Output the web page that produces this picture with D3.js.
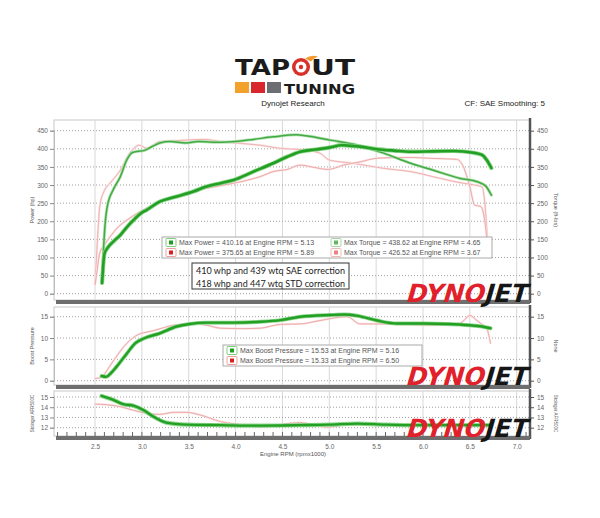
<!DOCTYPE html>
<html><head><meta charset="utf-8">
<script src="https://cdn.jsdelivr.net/npm/d3@7"></script>
<style>body{margin:0;background:#fff}svg{display:block}</style>
</head><body>
<svg id="c" width="600" height="518"></svg>
<script>
// ---------- DATA ----------
const rpmTicks = [2.5,3.0,3.5,4.0,4.5,5.0,5.5,6.0,6.5,7.0];
const powerTicks = [0,50,100,150,200,250,300,350,400,450];
const boostTicks = [0,5,10,15];
const afrTicks = [12,13,14,15];

// Run 1 (green) power
const g1PowerRpm = [2.575,2.585,2.60,2.63,2.70,2.77,2.84,2.91,3.00,3.05,3.19,3.34,3.55,3.69,3.84,3.98,4.19,4.40,4.55,4.69,4.85,5.01,5.13,5.19,5.33,5.51,5.69,5.87,6.11,6.33,6.54,6.63,6.68,6.73];
const g1Power    = [30,70,110,125,145,162,184,203,224,231,254,266,282,296,305,314,337,360,378,392,398,404,410,409,406,399,395,392,393,394,389,383,369,347];
// Run 1 (green) torque
const g1TorqueRpm = [2.575,2.59,2.61,2.63,2.70,2.77,2.84,2.90,2.96,3.02,3.10,3.19,3.30,3.47,3.60,3.84,4.00,4.19,4.40,4.65,4.75,5.01,5.30,5.58,5.87,6.11,6.40,6.58,6.67,6.73];
const g1Torque    = [30,120,200,240,290,323,370,390,393,395,405,416,420,416,420,418,420,426,433,439,436,424,410,388,360,341,318,309,297,272];
// Run 2 (red) power
const r2PowerRpm = [2.50,2.52,2.55,2.60,2.66,2.75,2.84,2.95,3.05,3.30,3.50,3.69,3.98,4.26,4.40,4.55,4.69,4.83,4.99,5.15,5.33,5.51,5.76,5.89,6.05,6.36,6.43,6.50,6.55,6.62,6.66,6.68];
const r2Power    = [25,60,112,135,157,185,203,222,236,263,278,291,305,323,337,343,355,349,343,355,364,374,376,376,374,371,351,295,245,240,200,157];
// Run 2 (red) torque
const r2TorqueRpm = [2.50,2.52,2.55,2.60,2.66,2.77,2.87,2.93,2.97,3.05,3.19,3.40,3.67,3.84,4.05,4.26,4.48,4.69,4.90,5.00,5.26,5.58,5.87,6.19,6.43,6.55,6.63,6.66,6.69];
const r2Torque    = [25,120,240,285,305,341,388,405,410,402,420,423,426,420,415,410,401,398,388,369,360,346,337,318,305,300,295,250,140];
// Boost
const g1BoostRpm = [2.57,2.62,2.67,2.73,2.84,2.93,3.02,3.19,3.37,3.51,3.69,3.98,4.26,4.48,4.69,5.01,5.16,5.30,5.51,5.72,6.01,6.26,6.50,6.63,6.72];
const g1Boost    = [1.1,0.9,1.8,3.3,6.4,8.8,9.9,11.1,12.7,13.3,13.6,13.6,13.8,14.2,15.0,15.4,15.5,15.2,14.1,13.4,13.4,13.3,13.0,12.7,12.3];
const r2BoostRpm = [2.50,2.57,2.63,2.70,2.84,2.95,3.12,3.34,3.55,3.69,3.84,4.05,4.26,4.48,4.69,4.90,5.19,5.33,5.62,6.11,6.36,6.44,6.50,6.57,6.63,6.68,6.72];
const r2Boost    = [0.5,0.8,2.5,4.8,8.8,10.7,11.7,13.0,13.3,13.0,12.3,12.2,12.3,13.2,13.3,14.1,15.0,13.3,13.3,13.0,13.0,14.2,15.3,14.2,13.2,12.3,8.8];
// AFR
const g1AfrRpm = [2.57,2.70,2.80,2.91,3.02,3.12,3.26,3.48,3.84,4.20,4.69,5.00,5.30,5.60,6.00,6.40,6.72];
const g1Afr    = [15.1,14.7,14.3,14.15,13.7,13.1,12.5,12.3,12.25,12.2,12.25,12.3,12.4,12.3,12.25,12.25,12.25];
const r2AfrRpm = [2.50,2.62,2.77,2.91,3.05,3.19,3.34,3.48,3.62,3.84,4.05,4.26,4.40,4.55,4.69,4.97,5.22,5.60,6.00,6.40,6.70];
const r2Afr    = [14.3,14.25,14.05,13.7,13.4,13.3,13.5,13.5,13.25,12.6,12.3,12.05,12.15,12.4,12.5,12.05,12.3,12.2,12.2,12.2,12.2];

const legendPower = [
  {text:"Max Power = 410.16 at Engine RPM = 5.13", fill:"#1e9e1e", stroke:"#7fcf7f"},
  {text:"Max Power = 375.65 at Engine RPM = 5.89", fill:"#d82020", stroke:"#eea0a0"}];
const legendTorque = [
  {text:"Max Torque = 438.62 at Engine RPM = 4.65", fill:"#5fb95f", stroke:"#a5d8a5"},
  {text:"Max Torque = 426.52 at Engine RPM = 3.67", fill:"#ee8080", stroke:"#f2b8b8"}];
const legendBoost = [
  {text:"Max Boost Pressure = 15.53 at Engine RPM = 5.16", fill:"#1e9e1e", stroke:"#7fcf7f"},
  {text:"Max Boost Pressure = 15.33 at Engine RPM = 6.50", fill:"#d82020", stroke:"#eea0a0"}];
const noteLines = ["410 whp and 439 wtq SAE correction","418 whp and 447 wtq STD correction"];

// ---------- DRAW ----------
const svg = d3.select("#c");
const L = 54, R = 530;
const x = d3.scaleLinear().domain([2.062, 7.142]).range([L, R]);

const panels = [
  {top:120, bottom:300, y:d3.scaleLinear().domain([0,450]).range([293.7,130.7]), ticks:powerTicks, lt:"Power (hp)", rt:"Torque (ft-lbs)"},
  {top:307, bottom:385, y:d3.scaleLinear().domain([0,15]).range([380.7,316.7]), ticks:boostTicks, lt:"Boost Pressure", rt:"None"},
  {top:391, bottom:436, y:d3.scaleLinear().domain([12,15]).range([427.7,397]), ticks:afrTicks, lt:"Stoinger AFR500C", rt:"Stoinger AFR500C"}
];

const font = "'Liberation Sans', Arial, sans-serif";

panels.forEach((p,i) => {
  const g = svg.append("g");
  g.append("rect").attr("x",L).attr("y",p.top).attr("width",R-L).attr("height",p.bottom-p.top)
    .attr("fill","#fff").attr("stroke","#c8c8c8");
  g.selectAll(".vg").data(rpmTicks).join("line")
    .attr("x1",d=>x(d)).attr("x2",d=>x(d)).attr("y1",p.top).attr("y2",p.bottom)
    .attr("stroke","#d8d8d8").attr("stroke-width",1);
  g.selectAll(".hg").data(p.ticks).join("line")
    .attr("x1",L).attr("x2",R).attr("y1",d=>p.y(d)).attr("y2",d=>p.y(d))
    .attr("stroke","#a0a0a0").attr("stroke-dasharray","1,2").attr("stroke-width",1);
  const la = g.append("g").attr("transform",`translate(${L},0)`)
    .call(d3.axisLeft(p.y).tickValues(p.ticks).tickFormat(d3.format("d")).tickSize(4).tickPadding(2));
  la.select(".domain").attr("stroke","#bbb");
  la.selectAll(".tick line").attr("stroke","#888");
  la.selectAll("text").attr("font-family",font).attr("font-size",6.5).attr("fill","#666");
  const ra = g.append("g").attr("transform",`translate(${R},0)`)
    .call(d3.axisRight(p.y).tickValues(p.ticks).tickFormat(d3.format("d")).tickSize(4).tickPadding(3));
  ra.select(".domain").remove();
  ra.selectAll(".tick line").attr("stroke","#555");
  ra.selectAll("text").attr("font-family",font).attr("font-size",6.5).attr("fill","#666");
  g.append("line").attr("x1",R).attr("x2",R).attr("y1",p.top-2).attr("y2",p.bottom+3)
    .attr("stroke","#555").attr("stroke-width",2.5);
  g.append("rect").attr("x",L+2).attr("y",p.bottom).attr("width",R-L-2).attr("height",4).attr("fill","#6e6e6e");
  const cy = (p.top+p.bottom)/2;
  g.append("text").attr("transform",`translate(34,${cy}) rotate(-90)`).attr("text-anchor","middle")
    .attr("font-family",font).attr("font-size",i==2?4.5:5.5).attr("fill","#555").text(p.lt);
  g.append("text").attr("transform",`translate(554,${cy}) rotate(90)`).attr("text-anchor","middle")
    .attr("font-family",font).attr("font-size",i==2?4.5:5.5).attr("fill","#555").text(p.rt);
});

const xa = svg.append("g").attr("transform",`translate(0,${panels[2].bottom+4})`)
  .call(d3.axisBottom(x).tickValues(rpmTicks).tickFormat(d3.format(".1f")).tickSize(0).tickPadding(4));
xa.select(".domain").remove();
xa.selectAll("text").attr("font-family",font).attr("font-size",6.5).attr("fill","#666");
const minor = d3.range(21,72).map(d=>d/10);
svg.selectAll(".mt").data(minor).join("line")
  .attr("x1",d=>x(d)).attr("x2",d=>x(d)).attr("y1",panels[2].bottom-4).attr("y2",panels[2].bottom)
  .attr("stroke","#666").attr("stroke-width",1);
svg.append("text").attr("x",293).attr("y",456).attr("text-anchor","middle")
  .attr("font-family",font).attr("font-size",6).attr("fill","#555").text("Engine RPM (rpmx1000)");

function drawLine(rpms, vals, yScale, core, halo, wc, wh){
  const pts = rpms.map((r,i)=>[r, vals[i]]);
  const ln = d3.line().x(d=>x(d[0])).y(d=>yScale(d[1])).curve(d3.curveMonotoneX);
  svg.append("path").attr("d",ln(pts)).attr("fill","none").attr("stroke",halo).attr("stroke-width",wh)
    .attr("stroke-linejoin","round").attr("stroke-linecap","round");
  svg.append("path").attr("d",ln(pts)).attr("fill","none").attr("stroke",core).attr("stroke-width",wc)
    .attr("stroke-linejoin","round").attr("stroke-linecap","round");
}
const [pP,pB,pA] = panels;
drawLine(r2TorqueRpm, r2Torque, pP.y, "#efa5a5", "#fae3e3", 0.8, 2.2);
drawLine(r2PowerRpm, r2Power, pP.y, "#eb9a9a", "#fae3e3", 0.8, 2.2);
drawLine(g1TorqueRpm, g1Torque, pP.y, "#44ab44", "#b2e2b2", 1.5, 3.0);
drawLine(g1PowerRpm, g1Power, pP.y, "#23a023", "#8fd68f", 2.6, 4.2);
drawLine(r2BoostRpm, r2Boost, pB.y, "#eb9a9a", "#fae3e3", 0.8, 2.2);
drawLine(g1BoostRpm, g1Boost, pB.y, "#23a023", "#8fd68f", 2.4, 4.0);
drawLine(r2AfrRpm, r2Afr, pA.y, "#eb9a9a", "#fae3e3", 0.8, 2.2);
drawLine(g1AfrRpm, g1Afr, pA.y, "#23a023", "#8fd68f", 2.4, 4.2);

function legendItems(items, x0, y0){
  items.forEach((it,i)=>{
    const yy = y0 + i*10;
    svg.append("rect").attr("x",x0).attr("y",yy-4).attr("width",10).attr("height",8).attr("rx",1)
      .attr("fill","#fff").attr("stroke",it.stroke).attr("stroke-width",1);
    svg.append("rect").attr("x",x0+3).attr("y",yy-2).attr("width",4).attr("height",4).attr("fill",it.fill);
    svg.append("text").attr("x",x0+13).attr("y",yy+2.5).attr("font-family",font).attr("font-size",7)
      .attr("fill","#555").text(it.text);
  });
}
svg.append("rect").attr("x",162).attr("y",237).attr("width",330).attr("height",21).attr("fill","#fff").attr("stroke","#aaa");
legendItems(legendPower, 166, 242.5);
legendItems(legendTorque, 331, 242.5);
svg.append("rect").attr("x",223).attr("y",345).attr("width",199).attr("height",21).attr("fill","#fff").attr("stroke","#aaa");
legendItems(legendBoost, 227, 350.5);

svg.append("rect").attr("x",192).attr("y",263).attr("width",157).attr("height",26).attr("fill","#fff").attr("stroke","#333");
noteLines.forEach((t,i)=>svg.append("text").attr("x",196).attr("y",274+i*12.5)
  .attr("font-family","Lato, 'Open Sans', sans-serif").attr("font-size",10).attr("textLength",149)
  .attr("lengthAdjust","spacingAndGlyphs").attr("fill","#222").text(t));

// Dynojet logos
function dynojet(baseY){
  const g = svg.append("g").attr("transform",`translate(405,${baseY}) skewX(-16)`);
  const t = g.append("text").attr("x",0).attr("y",0).attr("font-family","'DejaVu Sans', sans-serif")
    .attr("font-weight","bold").attr("font-size",25).attr("textLength",121).attr("lengthAdjust","spacingAndGlyphs");
  t.append("tspan").attr("fill","#e0202a").text("DYNO");
  t.append("tspan").attr("fill","#161616").text("JET");
}
dynojet(301.5);
dynojet(385);
dynojet(436.5);

svg.append("text").attr("x",293).attr("y",106).attr("text-anchor","middle").attr("font-family",font)
  .attr("font-size",8).attr("fill","#222").text("Dynojet Research");
svg.append("text").attr("x",545).attr("y",106).attr("text-anchor","end").attr("font-family",font)
  .attr("font-size",8).attr("fill","#222").text("CF: SAE Smoothing: 5");

const lg = svg.append("g").attr("font-family","'DejaVu Sans', sans-serif").attr("font-weight","bold");
lg.append("text").attr("x",235).attr("y",75).attr("font-size",22).attr("textLength",55).attr("lengthAdjust","spacingAndGlyphs")
  .attr("fill","#1b1b1b").text("TAP");
lg.append("circle").attr("cx",301).attr("cy",67).attr("r",9).attr("fill","#d8312a");
lg.append("circle").attr("cx",301).attr("cy",67).attr("r",5.5).attr("fill","#fff");
lg.append("circle").attr("cx",301).attr("cy",67).attr("r",2.2).attr("fill","#d8312a");
lg.append("path").attr("d","M305,58.5 Q311,54.5 318,56.5 Q313,58.5 311,61.5 Z").attr("fill","#f29a2e");
lg.append("text").attr("x",311).attr("y",75).attr("font-size",22).attr("textLength",44).attr("lengthAdjust","spacingAndGlyphs")
  .attr("fill","#1b1b1b").text("UT");
lg.append("rect").attr("x",235).attr("y",82).attr("width",14).attr("height",11).attr("fill","#f2a22a");
lg.append("rect").attr("x",251).attr("y",82).attr("width",14).attr("height",11).attr("fill","#d8262c");
lg.append("rect").attr("x",267).attr("y",82).attr("width",14).attr("height",11).attr("fill","#6d6e71");
lg.append("text").attr("x",284).attr("y",93.5).attr("font-size",14).attr("textLength",71).attr("lengthAdjust","spacingAndGlyphs")
  .attr("fill","#1b1b1b").text("TUNING");
</script>
</body></html>
